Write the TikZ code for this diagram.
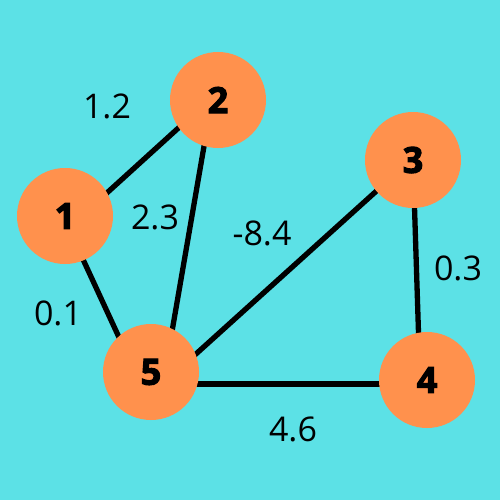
\documentclass[tikz,border=0pt]{standalone}
\usepackage{fontspec}
\setmainfont{Open Sans}
\newfontfamily\heavyfont{Open Sans}[BoldFeatures={FakeBold=3}]
\usetikzlibrary{calc}
\definecolor{bgc}{HTML}{5CE1E6}
\definecolor{nodec}{HTML}{FF914D}
\pgfdeclarelayer{bglayer}
\pgfdeclarelayer{edgelayer}
\pgfsetlayers{bglayer,edgelayer,main}
\begin{document}
\begin{tikzpicture}[x=1pt,y=-1pt,
  vert/.style={circle,fill=nodec,minimum size=96pt,inner sep=0pt,font=\fontsize{36}{40}\selectfont\heavyfont\bfseries},
  edge/.style={line width=5.3pt,black},
  wlabel/.style={inner sep=0pt,font=\fontsize{34}{40}\selectfont}]
\begin{pgfonlayer}{bglayer}
\fill[bgc] (0,0) rectangle (500,500);
\end{pgfonlayer}
\useasboundingbox (0,0) rectangle (500,500);
\node[vert] (n1) at (65,216) {1};
\node[vert] (n2) at (218,100) {2};
\node[vert] (n3) at (413,160) {3};
\node[vert] (n4) at (427,380) {4};
\node[vert] (n5) at (151,372) {5};
\begin{pgfonlayer}{edgelayer}
\draw[edge] ($(n1)+(0,15)$) -- ($(n2)+(0,-8)$);
\draw[edge] ($(n1)+(-2,0)$) -- ($(n5)+(-16,0)$);
\draw[edge] ($(n2)+(-6,0)$) -- ($(n5)+(14,0)$);
\draw[edge] ($(n3)+(0,-2)$) -- ($(n5)+(25,0)$);
\draw[edge] (n3) -- ($(n4)+(-7,0)$);
\draw[edge] ($(n5)+(0,12)$) -- ($(n4)+(0,4)$);
\end{pgfonlayer}
\node[wlabel] (l12) at (107,106) {1.2};
\node[wlabel] (l25) at (155,217) {2.3};
\node[wlabel] (l35) at (262,233) {-8.4};
\node[wlabel] (l34) at (458,268) {0.3};
\node[wlabel] (l15) at (58,313) {0.1};
\node[wlabel] (l45) at (293,429) {4.6};
\end{tikzpicture}
\end{document}
